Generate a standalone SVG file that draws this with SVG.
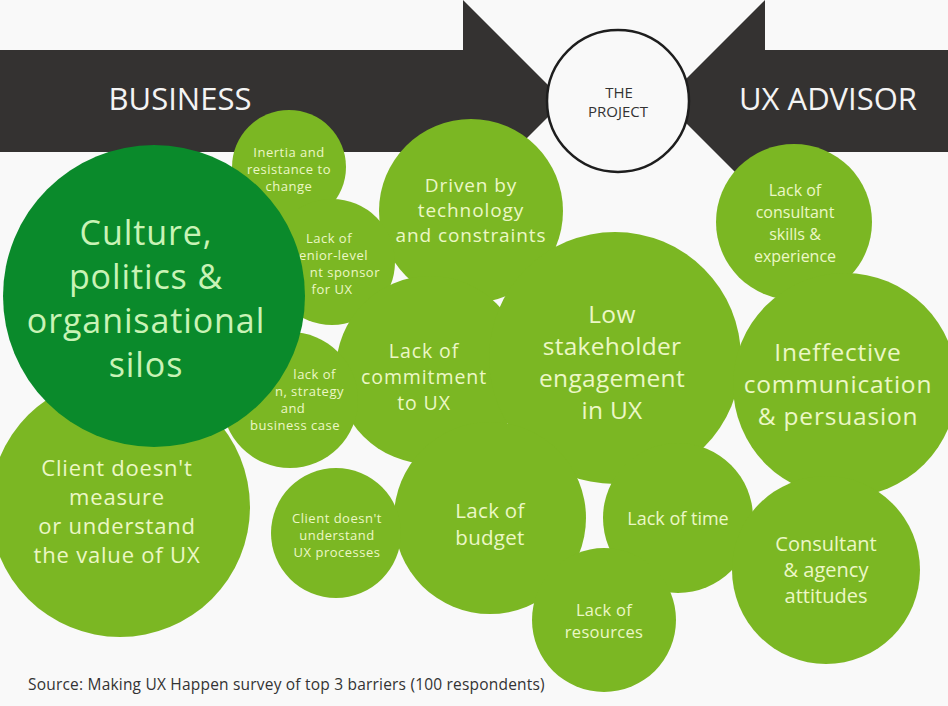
<svg xmlns="http://www.w3.org/2000/svg" width="948" height="706" viewBox="0 0 948 706">
<style>
.bg{fill:#f9f9f9}
.band{fill:#343231}
.c{fill:#7bb723}
.dk{fill:#0a8a2b}
.t{font-family:"Open Sans","DejaVu Sans",sans-serif;fill:#ecf7c6;text-anchor:middle}
.s{font-size:13px;letter-spacing:0.5px}
.e{text-anchor:end}
.td{font-family:"Open Sans","DejaVu Sans",sans-serif;fill:#c9f3b6;text-anchor:middle;font-size:34px;letter-spacing:0.9px}
.hd{font-family:"Open Sans","DejaVu Sans",sans-serif;fill:#f4f4f4;font-size:31px;text-anchor:middle}
.pr{font-family:"Open Sans","DejaVu Sans",sans-serif;fill:#333;font-size:15px;text-anchor:middle}
.src{font-family:"Open Sans","DejaVu Sans",sans-serif;fill:#333;font-size:15.5px;letter-spacing:0.2px}
</style>
<rect class="bg" x="0" y="0" width="948" height="706"/>
<g id="banner">
<polygon class="band" points="0,50 463,50 463,0 564,101 463,202 463,152 0,152"/>
<polygon class="band" points="948,50 765,50 765,0 664,101 765,202 765,152 948,152"/>
<text class="hd" x="180" y="110">BUSINESS</text>
<text class="hd" x="828" y="110">UX ADVISOR</text>
</g>
<g id="connectors"/>
<g id="driven">
<circle class="c" cx="471" cy="211" r="92"/>
<text class="t" font-size="19" letter-spacing="0.9" x="471" y="192">Driven by</text>
<text class="t" font-size="19" letter-spacing="0.9" x="471" y="217">technology</text>
<text class="t" font-size="19" letter-spacing="0.9" x="471" y="242">and constraints</text>
</g>
<g id="inertia">
<circle class="c" cx="289" cy="167" r="57"/>
<text class="t s" x="289" y="157">Inertia and</text>
<text class="t s" x="289" y="174">resistance to</text>
<text class="t s" x="289" y="191">change</text>
</g>
<g id="senior">
<circle class="c" cx="332" cy="262" r="63"/>
<text class="t s" x="329" y="243">Lack of</text>
<text class="t s e" x="368" y="260">enior-level</text>
<text class="t s e" x="380" y="277">nt sponsor</text>
<text class="t s" x="332" y="294">for UX</text>
</g>
<g id="commitment">
<circle class="c" cx="430" cy="370" r="94"/>
<text class="t" font-size="19.5" letter-spacing="0.9" x="424" y="358">Lack of</text>
<text class="t" font-size="19.5" letter-spacing="0.9" x="424" y="384">commitment</text>
<text class="t" font-size="19.5" letter-spacing="0.9" x="424" y="410">to UX</text>
</g>
<g id="vision">
<circle class="c" cx="290" cy="400" r="68"/>
<text class="t s e" x="336" y="379">lack of</text>
<text class="t s e" x="344" y="396">n, strategy</text>
<text class="t s" x="293" y="413">and</text>
<text class="t s" x="295" y="430">business case</text>
</g>
<g id="low-stakeholder">
<circle class="c" cx="615" cy="358" r="126"/>
<text class="t" font-size="24.5" letter-spacing="0.3" x="612" y="323">Low</text>
<text class="t" font-size="24.5" letter-spacing="0.3" x="612" y="355">stakeholder</text>
<text class="t" font-size="24.5" letter-spacing="0.3" x="612" y="387">engagement</text>
<text class="t" font-size="24.5" letter-spacing="0.3" x="612" y="419">in UX</text>
</g>
<g id="budget">
<circle class="c" cx="490" cy="518" r="96"/>
<text class="t" font-size="20.5" letter-spacing="0.3" x="490" y="518">Lack of</text>
<text class="t" font-size="20.5" letter-spacing="0.3" x="490" y="545">budget</text>
</g>
<g id="time">
<circle class="c" cx="678" cy="518" r="75"/>
<text class="t" font-size="18" x="678" y="525">Lack of time</text>
</g>
<g id="resources">
<circle class="c" cx="604" cy="620" r="72"/>
<text class="t" font-size="16.5" letter-spacing="0.3" x="604" y="616">Lack of</text>
<text class="t" font-size="16.5" letter-spacing="0.3" x="604" y="638">resources</text>
</g>
<g id="ux-processes">
<circle class="c" cx="336" cy="533" r="65"/>
<text class="t s" x="337" y="523">Client doesn't</text>
<text class="t s" x="337" y="540">understand</text>
<text class="t s" x="337" y="557">UX processes</text>
</g>
<g id="measure">
<circle class="c" cx="120" cy="507" r="130"/>
<text class="t" font-size="22" letter-spacing="0.8" x="117" y="476">Client doesn't</text>
<text class="t" font-size="22" letter-spacing="0.8" x="117" y="505">measure</text>
<text class="t" font-size="22" letter-spacing="0.8" x="117" y="534">or understand</text>
<text class="t" font-size="22" letter-spacing="0.8" x="117" y="563">the value of UX</text>
</g>
<g id="skills">
<circle class="c" cx="794" cy="222" r="78"/>
<text class="t" font-size="16" x="795" y="196">Lack of</text>
<text class="t" font-size="16" x="795" y="218">consultant</text>
<text class="t" font-size="16" x="795" y="240">skills &amp;</text>
<text class="t" font-size="16" x="795" y="262">experience</text>
</g>
<g id="ineffective">
<circle class="c" cx="845" cy="385" r="112"/>
<text class="t" font-size="24.5" letter-spacing="0.8" x="838" y="361">Ineffective</text>
<text class="t" font-size="24.5" letter-spacing="0.8" x="838" y="393">communication</text>
<text class="t" font-size="24.5" letter-spacing="0.8" x="838" y="425">&amp; persuasion</text>
</g>
<g id="attitudes">
<circle class="c" cx="826" cy="570" r="94"/>
<text class="t" font-size="20" x="826" y="551">Consultant</text>
<text class="t" font-size="20" x="826" y="577">&amp; agency</text>
<text class="t" font-size="20" x="826" y="603">attitudes</text>
</g>
<g id="culture">
<circle class="dk" cx="154" cy="296" r="151"/>
<text class="td" x="146" y="245">Culture,</text>
<text class="td" x="146" y="289">politics &amp;</text>
<text class="td" x="146" y="333">organisational</text>
<text class="td" x="146" y="377">silos</text>
</g>
<g id="project">
<circle cx="618" cy="101" r="71" fill="#f9f9f9" stroke="#1e1e1e" stroke-width="2.5"/>
<text class="pr" x="619" y="98">THE</text>
<text class="pr" x="618" y="117">PROJECT</text>
</g>
<text class="src" x="28" y="690">Source: Making UX Happen survey of top 3 barriers (100 respondents)</text>
</svg>
